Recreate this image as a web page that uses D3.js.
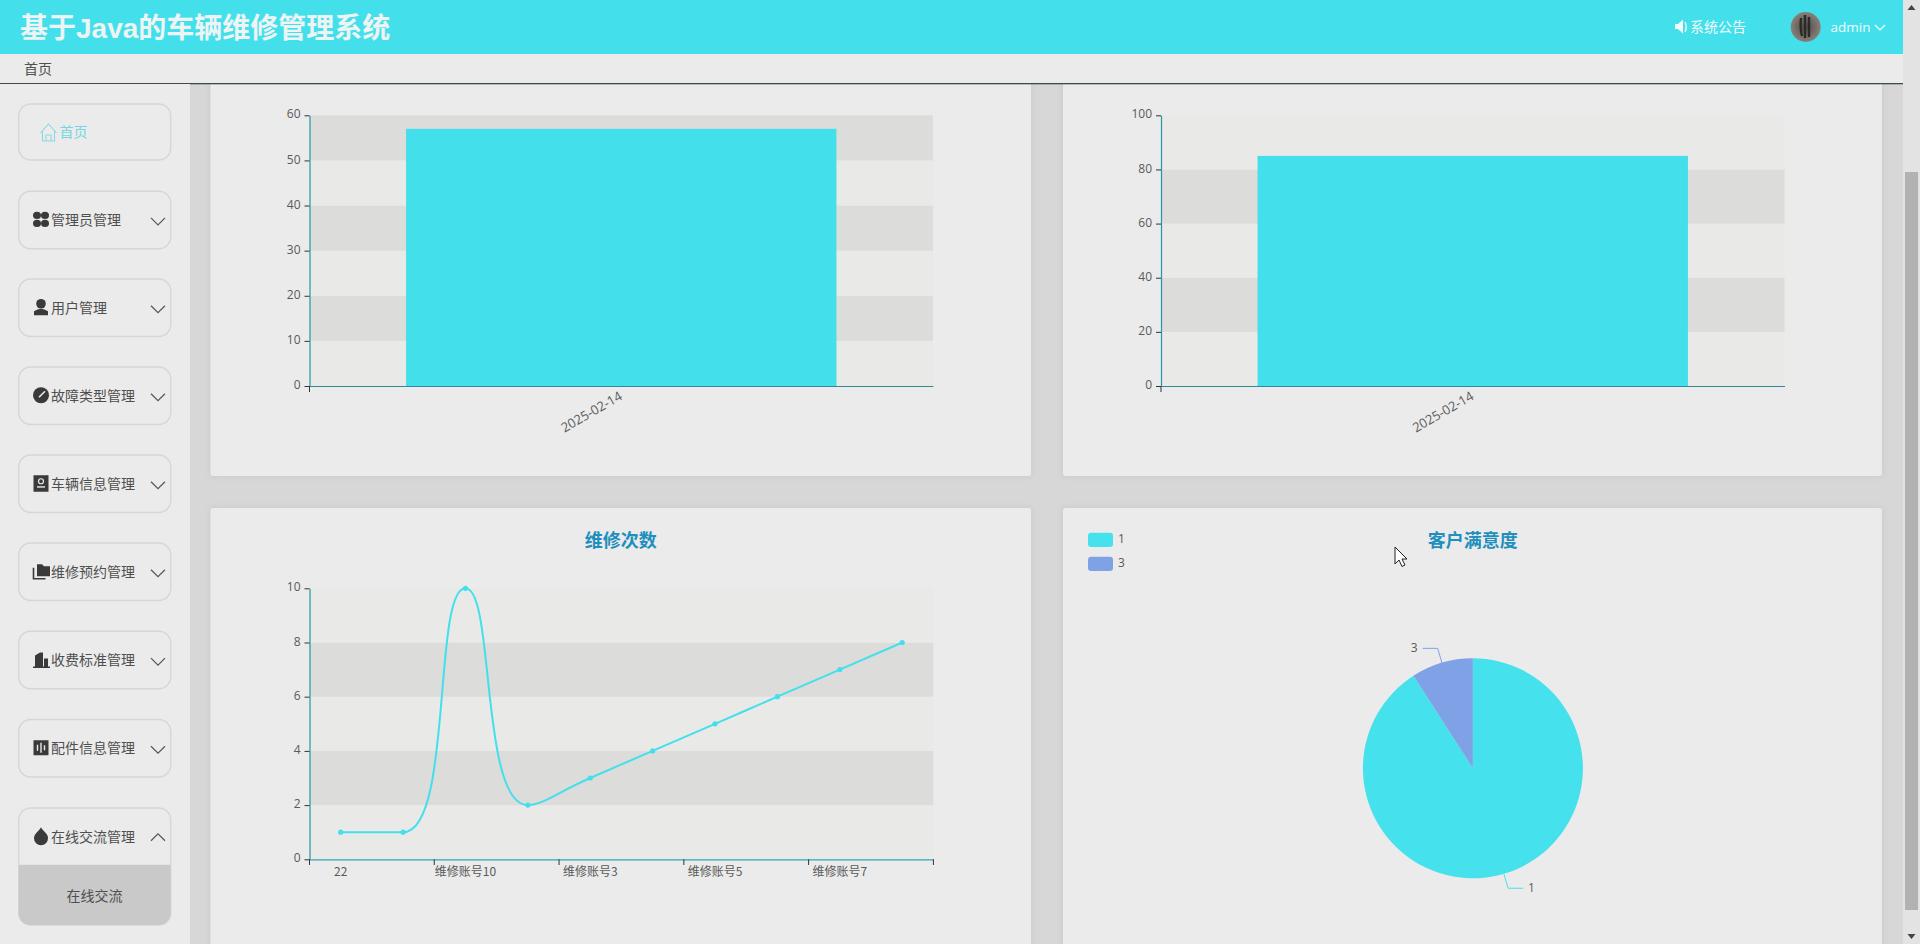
<!DOCTYPE html>
<html lang="zh-CN">
<head>
<meta charset="utf-8">
<title>基于Java的车辆维修管理系统</title>
<script src="https://cdn.jsdelivr.net/npm/d3@7/dist/d3.min.js"></script>
<style>
html,body{margin:0;padding:0;width:1920px;height:944px;overflow:hidden;background:#d6d6d6}
svg{display:block}
text{font-family:"Open Sans","Noto Sans CJK SC",sans-serif}
.cjk{font-family:"Noto Sans CJK SC",sans-serif}
</style>
</head>
<body>
<svg id="page" width="1920" height="944"></svg>
<script>
const appTitle = "基于Java的车辆维修管理系统";
const menuLabels = ["首页","管理员管理","用户管理","故障类型管理","车辆信息管理","维修预约管理","收费标准管理","配件信息管理","在线交流管理"];
const subMenuLabel = "在线交流";
const barDates = ["2025-02-14"];
const barLeftValues = [57];
const barRightValues = [85];
const lineCategories = ["22","维修账号1","维修账号10","维修账号2","维修账号3","维修账号4","维修账号5","维修账号6","维修账号7","维修账号8"];
const lineValues = [1,1,10,2,3,4,5,6,7,8];
const lineTickLabels = ["22","维修账号10","维修账号3","维修账号5","维修账号7"];
const pieLabels = ["1","3"];
const pieValues = [10,1];
const pieColors = ["#45e1ec","#7fa1e6"];
const lineTitle = "维修次数";
const pieTitle = "客户满意度";

const CYAN="#43e0ec", CARD="#ebebeb", TICK="#333", LABEL="#5a5a5a", TITLE="#1f8fbd", MENU="#4f4f4f";
const svg=d3.select("#page");
const rect=(p,x,y,w,h,fill,extra={})=>{const r=p.append("rect").attr("x",x).attr("y",y).attr("width",w).attr("height",h).attr("fill",fill);Object.entries(extra).forEach(([k,v])=>r.attr(k,v));return r;};
const defs=svg.append("defs");
const sh=defs.append("filter").attr("id","cardShadow").attr("x","-5%").attr("y","-5%").attr("width","110%").attr("height","110%");
sh.append("feDropShadow").attr("dx",0).attr("dy",0).attr("stdDeviation",3).attr("flood-color","#000").attr("flood-opacity",0.08);
const av=defs.append("radialGradient").attr("id","avatarGrad");
av.append("stop").attr("offset","0%").attr("stop-color","#4a4a48");
av.append("stop").attr("offset","100%").attr("stop-color","#8a8078");

// page background
rect(svg,0,0,1920,944,"#d7d7d7");

// cards
const cards=svg.append("g");
[[210.5,-40,820.5,516],[1063,-40,819,516],[210.5,508,820.5,500],[1063,508,819,500]].forEach(c=>{
  rect(cards,c[0],c[1],c[2],c[3],CARD,{rx:3,filter:"url(#cardShadow)"});
});

// ECharts style smooth line as a D3 curve
function echartsCurve(context){
  let pts=[];
  return {
    areaStart(){},areaEnd(){},
    lineStart(){pts=[];},
    point(x,y){pts.push([x,y]);},
    lineEnd(){
      const s=0.5,n=pts.length;
      const clamp=(v,a,b)=>Math.max(Math.min(v,Math.max(a,b)),Math.min(a,b));
      context.moveTo(pts[0][0],pts[0][1]);
      let cpx0=pts[0][0],cpy0=pts[0][1];
      for(let i=1;i<n;i++){
        const [x,y]=pts[i],[px,py]=pts[i-1];
        let cp1x,cp1y,nextx,nexty;
        if(i<n-1){
          const [nx,ny]=pts[i+1];
          let vx=nx-px,vy=ny-py;
          const lp=Math.hypot(x-px,y-py),ln=Math.hypot(nx-x,ny-y);
          const ratio=ln/(ln+lp);
          nextx=clamp(x+vx*s*ratio,nx,x);
          nexty=clamp(y+vy*s*ratio,ny,y);
          vx=nextx-x;vy=nexty-y;
          cp1x=clamp(x-vx*lp/ln,px,x);
          cp1y=clamp(y-vy*lp/ln,py,y);
          vx=x-cp1x;vy=y-cp1y;
          nextx=x+vx*ln/lp;
          nexty=y+vy*ln/lp;
        }else{cp1x=x;cp1y=y;nextx=x;nexty=y;}
        context.bezierCurveTo(cpx0,cpy0,cp1x,cp1y,x,y);
        cpx0=nextx;cpy0=nexty;
      }
    }
  };
}

function splitBands(g,y,ticks,x0,x1){
  d3.pairs(ticks).forEach((p,i)=>{
    rect(g,x0,y(p[1]),x1-x0,y(p[0])-y(p[1]),i%2?"#dcdcda":"#e9e9e7");
  });
}
function styleAxis(ax,color){
  ax.selectAll("text").attr("fill",LABEL).style("font-size","12px");
  ax.select(".domain").attr("stroke",color).attr("stroke-width",1.2);
  ax.selectAll(".tick line").attr("stroke",TICK);
}
function yAxis(g,y,ticks,x0){
  const ax=g.append("g").attr("transform",`translate(${x0},0)`)
    .call(d3.axisLeft(y).tickValues(ticks).tickSize(5).tickSizeOuter(0).tickPadding(4).tickFormat(d3.format("d")));
  styleAxis(ax,"#2696a8");
  ax.selectAll("text").attr("dy","0.22em");
  return ax;
}

// bar charts
function barChart(x0,x1,values,max,step){
  const g=svg.append("g");
  const y=d3.scaleLinear().domain([0,max]).range([386,115.3]);
  const ticks=d3.range(0,max+step,step);
  splitBands(g,y,ticks,x0,x1);
  const x=d3.scaleBand().domain(barDates).range([x0,x1]).paddingInner(0).paddingOuter(0.2243);
  g.selectAll("rect.bar").data(values).join("rect").attr("class","bar")
    .attr("x",(d,i)=>x(barDates[i])).attr("width",x.bandwidth())
    .attr("y",d=>y(d)).attr("height",d=>y(0)-y(d)).attr("fill",CYAN);
  yAxis(g,y,ticks,x0);
  const ax=g.append("g").attr("transform","translate(0,386)")
    .call(d3.axisBottom(x).tickSize(0).tickSizeOuter(0));
  styleAxis(ax,"#2f8a9c");
  ax.selectAll(".tick text").attr("text-anchor","end")
    .attr("transform","translate(-2,6) rotate(-30)").attr("dy","0.6em").attr("y",0).style("font-size","13px");
  rect(g,x0-0.5,386,1,6,TICK);
}
barChart(309.5,933,barLeftValues,60,10);
barChart(1161,1784.5,barRightValues,100,20);

// line chart
(function(){
  const g=svg.append("g");
  const x0=309.5,x1=933.4;
  const y=d3.scaleLinear().domain([0,10]).range([859.3,588.3]);
  const ticks=d3.range(0,12,2);
  splitBands(g,y,ticks,x0,x1);
  const x=d3.scaleBand().domain(lineCategories).range([x0,x1]);
  const cx=(d,i)=>x(lineCategories[i])+x.bandwidth()/2;
  g.append("path").datum(lineValues)
    .attr("fill","none").attr("stroke",CYAN).attr("stroke-width",2)
    .attr("d",d3.line().x(cx).y(d=>y(d)).curve(echartsCurve));
  g.selectAll("circle.pt").data(lineValues).join("circle").attr("class","pt")
    .attr("cx",cx).attr("cy",d=>y(d)).attr("r",2.6).attr("fill",CYAN);
  yAxis(g,y,ticks,x0);
  const shown=lineCategories.filter(c=>lineTickLabels.includes(c));
  const ax=g.append("g").attr("transform","translate(0,859.3)")
    .call(d3.axisBottom(x).tickValues(shown).tickSize(0).tickSizeOuter(0).tickPadding(8));
  styleAxis(ax,"#2aa8b8");
  ax.selectAll("text").classed("cjk",true);
  g.selectAll("line.xt").data(d3.range(0,lineCategories.length+1,2)).join("line").attr("class","xt")
    .attr("x1",d=>x0+d*x.step()).attr("x2",d=>x0+d*x.step())
    .attr("y1",859.3).attr("y2",865).attr("stroke",TICK);
})();

// chart titles
function chartTitle(t,cx){svg.append("text").attr("class","cjk").attr("x",cx).attr("y",547).attr("text-anchor","middle")
  .attr("fill",TITLE).attr("font-weight",700).style("font-size","18px").text(t);}
chartTitle(lineTitle,620.7);
chartTitle(pieTitle,1472.7);

// pie chart
(function(){
  const cx=1472.9,cy=768.3,r=110;
  const g=svg.append("g").attr("transform",`translate(${cx},${cy})`);
  const arcs=d3.pie().sort(null)(pieValues);
  const arc=d3.arc().innerRadius(0).outerRadius(r);
  g.selectAll("path.slice").data(arcs).join("path").attr("class","slice")
    .attr("d",arc).attr("fill",(d,i)=>pieColors[i]);
  arcs.forEach((a,i)=>{
    const m=(a.startAngle+a.endAngle)/2;
    const sx=Math.sin(m),sy=-Math.cos(m);
    const side=sx>=0?1:-1;
    const px=sx*(r+15),py=sy*(r+15);
    g.append("path").attr("fill","none").attr("stroke",pieColors[i]).attr("stroke-width",1)
      .attr("d",d3.line()([[sx*r,sy*r],[px,py],[px+side*15,py]]));
    g.append("text").attr("x",px+side*20).attr("y",py).attr("dy","0.28em")
      .attr("text-anchor",side>0?"start":"end").attr("fill",LABEL).style("font-size","12px").text(pieLabels[i]);
  });
  const lg=svg.append("g");
  pieLabels.forEach((l,i)=>{
    rect(lg,1088,532.7+i*24,25,14.3,pieColors[i],{rx:3});
    lg.append("text").attr("x",1118).attr("y",539+i*24).attr("dy","0.32em").attr("fill",LABEL).style("font-size","12px").text(l);
  });
})();

// cursor
svg.append("path").attr("d","M1395 547 L1395 564 L1399 560 L1402 566.5 L1405 565 L1402 559 L1407 559 Z")
  .attr("fill","#fff").attr("stroke","#222").attr("stroke-width",1);

// header + breadcrumb
rect(svg,0,54,1903,30,CARD);
rect(svg,0,83,1903,1.3,"#3d4a50");
rect(svg,0,0,1903,54,CYAN);
svg.append("text").attr("x",20).attr("y",37.5).attr("fill","#eef4f4").attr("font-weight",700)
  .style("font-family",'"Liberation Sans","Noto Sans CJK SC",sans-serif').style("font-size","28px").text(appTitle);
svg.append("text").attr("class","cjk").attr("x",24).attr("y",74).attr("fill",MENU).style("font-size","14px").text(menuLabels[0]);
// notice
const wht="#f2fbfc";
svg.append("path").attr("d","M1675 24 h3 l5 -4.5 v14 l-5 -4.5 h-3 Z").attr("fill",wht);
svg.append("path").attr("d","M1685 22 q2.5 5 0 10").attr("fill","none").attr("stroke",wht).attr("stroke-width",1.4);
svg.append("text").attr("class","cjk").attr("x",1690).attr("y",32).attr("fill",wht).style("font-size","14px").text("系统公告");
// avatar
svg.append("circle").attr("cx",1805.7).attr("cy",27).attr("r",15).attr("fill","url(#avatarGrad)");
svg.append("path").attr("d","M1801 18 q-1 10 1 18 M1805 15 v23 M1809 17 v20").attr("stroke","#2c2a28").attr("stroke-width",2.4).attr("fill","none");
svg.append("text").attr("x",1830.5).attr("y",32).attr("fill",wht).style("font-size","13.5px").text("admin");
svg.append("path").attr("d","M1875 25 l5 5 l5 -5").attr("fill","none").attr("stroke",wht).attr("stroke-width",1.2);

// sidebar
rect(svg,0,84,190,860,CARD);
const tops=[104,191.2,279,367,455,543,631.3,719.5,808];
const ink="#3a3a3a";
const icons=[
  (g,x,y)=>g.append("path").attr("d",`M${x-8} ${y+1} L${x} ${y-8} L${x+8} ${y+1} M${x-6} ${y-1} V${y+9} H${x+6} V${y-1} M${x-2.5} ${y+9} V${y+3} H${x+2.5} V${y+9}`).attr("fill","none").attr("stroke","#8ad9e2").attr("stroke-width",1.1),
  (g,x,y)=>[[-4,-4],[4,-4],[-4,4],[4,4]].forEach(o=>g.append("ellipse").attr("cx",x+o[0]).attr("cy",y+o[1]).attr("rx",4).attr("ry",3.6).attr("fill",ink)),
  (g,x,y)=>{g.append("circle").attr("cx",x).attr("cy",y-3.5).attr("r",4.8).attr("fill",ink);g.append("path").attr("d",`M${x-7} ${y+8} V${y+4} Q${x} ${y-1} ${x+7} ${y+4} V${y+8} Z`).attr("fill",ink);},
  (g,x,y)=>{g.append("circle").attr("cx",x).attr("cy",y).attr("r",8).attr("fill",ink);g.append("path").attr("d",`M${x-2} ${y+2} L${x+4} ${y-4}`).attr("stroke",CARD).attr("stroke-width",1.6);},
  (g,x,y)=>{rect(g,x-7.5,y-8,15,16.5,ink);g.append("circle").attr("cx",x).attr("cy",y-2).attr("r",2.5).attr("fill","none").attr("stroke",CARD).attr("stroke-width",1.2);rect(g,x-4,y+3,8,1.4,CARD);},
  (g,x,y)=>{g.append("path").attr("d",`M${x-4} ${y-7} h5 l2 2 h6 v10 h-13 Z`).attr("fill",ink);g.append("path").attr("d",`M${x-7.5} ${y-3.5} v11 h12`).attr("fill","none").attr("stroke",ink).attr("stroke-width",1.6);},
  (g,x,y)=>g.append("path").attr("d",`M${x-8} ${y+7} h2 v-11 l5 -3 h3 v14 h1 v-8 h4 v8 h2 v1.5 h-17 Z`).attr("fill",ink),
  (g,x,y)=>{rect(g,x-7.5,y-7.5,15,15,ink);[[-3.5,3],[0,5],[3.5,2.5]].forEach(o=>rect(g,x+o[0]-0.7,y-o[1],1.4,o[1]*2,CARD));},
  (g,x,y)=>g.append("path").attr("d",`M${x} ${y-9} C${x+2} ${y-5} ${x+7} ${y-3} ${x+7} ${y+2} A7 7 0 0 1 ${x-7} ${y+2} C${x-7} ${y-3} ${x-2} ${y-5} ${x} ${y-9} Z`).attr("fill",ink)
];
const sb=svg.append("g");
menuLabels.forEach((label,i)=>{
  const top=tops[i], h=i===0?56:57.5, open=i===menuLabels.length-1, ih=open?117:h;
  rect(sb,18.7,top,152,ih,"#ebebeb",{rx:12,stroke:"#d6d6d6","stroke-width":1.4});
  const cy=top+h/2;
  if(i===0){
    icons[0](sb,48.5,cy);
    sb.append("text").attr("class","cjk").attr("x",59.5).attr("y",cy+5).attr("fill","#74d6e2").style("font-size","14px").text(label);
  }else{
    icons[i](sb,41,cy-0.5);
    sb.append("text").attr("class","cjk").attr("x",51).attr("y",cy+5).attr("fill",MENU).style("font-size","14px").text(label);
    const d=open?`M151 ${cy+4} L158 ${cy-3} L165 ${cy+4}`:`M151 ${cy-2} L158 ${cy+5} L165 ${cy-2}`;
    sb.append("path").attr("d",d).attr("fill","none").attr("stroke","#555").attr("stroke-width",1.2);
  }
  if(open){
    sb.append("path").attr("d","M18.7 864.7 H170.7 V913 a12 12 0 0 1 -12 12 H30.7 a12 12 0 0 1 -12 -12 Z").attr("fill","#c9c9c9");
    sb.append("text").attr("class","cjk").attr("x",94.5).attr("y",901).attr("text-anchor","middle").attr("fill",MENU).style("font-size","14px").text(subMenuLabel);
  }
});

// scrollbar
rect(svg,1903,0,17,944,"#e3e3e3");
rect(svg,1905,172,13,738,"#b2b2b2");
svg.append("path").attr("d","M1911.5 5 l4 5 h-8 Z").attr("fill","#444");
svg.append("path").attr("d","M1911.5 939 l4 -5 h-8 Z").attr("fill","#444");
</script>
</body>
</html>
